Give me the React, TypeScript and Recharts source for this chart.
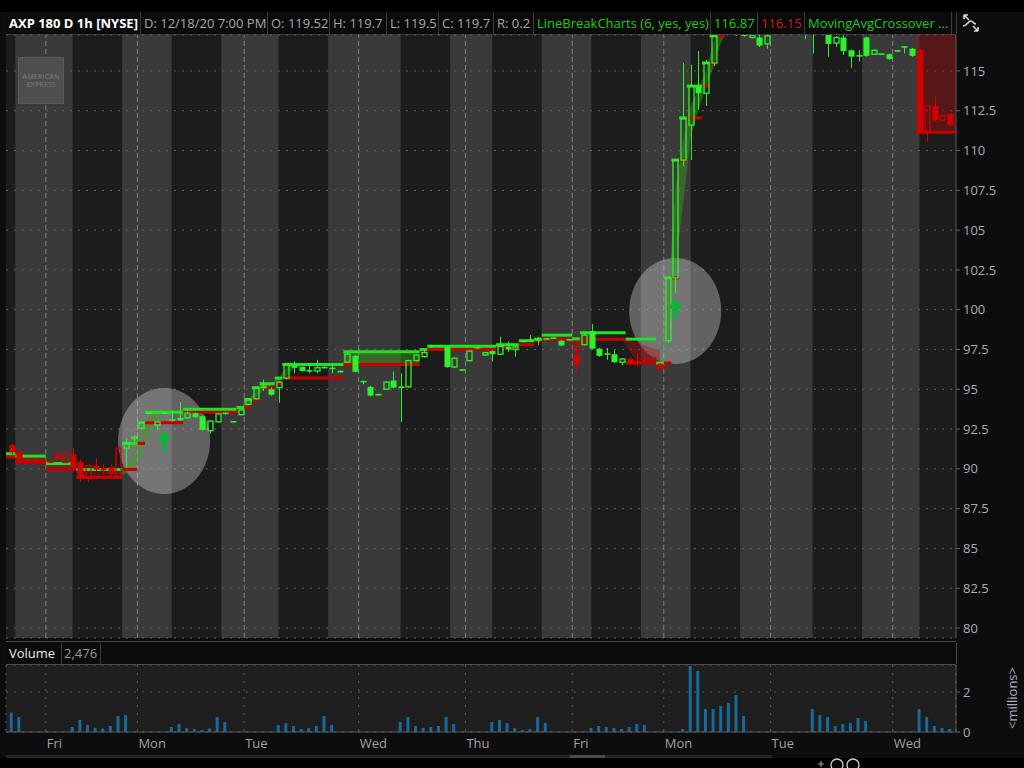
import React from 'react';
import {
  ComposedChart, BarChart, Bar, Area, XAxis, YAxis, CartesianGrid,
  ReferenceArea, ReferenceLine, ReferenceDot,
} from 'recharts';

type Trend = 'g' | 'r';

// [slot, open, high, low, close, trend] — one hourly bar per slot
const candles: [number, number, number, number, number, Trend][] = [
  [0, 91.5, 91.6, 90.9, 91.05, 'r'], [1, 91.1, 91.15, 90.35, 90.4, 'r'], [2, 90.62, 90.7, 90.5, 90.58, 'r'],
  [3, 90.6, 90.68, 90.5, 90.55, 'r'], [4, 90.55, 90.6, 90.45, 90.5, 'r'], [5, 90.45, 90.5, 90.35, 90.4, 'r'],
  [6, 90.9, 91.2, 90.55, 90.6, 'r'], [7, 90.4, 91.1, 90.35, 91.05, 'r'], [8, 90.9, 91.3, 90.05, 90.1, 'r'],
  [9, 90.45, 90.6, 89.2, 89.45, 'r'], [10, 89.45, 90.25, 89.15, 90.2, 'r'], [11, 90.2, 90.7, 89.85, 89.95, 'r'],
  [12, 90.05, 90.3, 89.7, 89.9, 'r'], [13, 90.1, 90.3, 89.5, 89.7, 'r'], [14, 89.45, 91.35, 89.4, 91.3, 'r'],
  [15, 91.3, 91.9, 90.1, 91.6, 'g'], [16, 91.9, 92.1, 91.7, 92.0, 'g'], [17, 92.55, 93.0, 92.5, 92.9, 'g'],
  [18, 93.52, 93.6, 93.45, 93.5, 'g'], [19, 92.75, 93.0, 92.45, 92.95, 'g'], [20, 93.52, 93.6, 93.45, 93.5, 'g'],
  [21, 93.05, 93.7, 92.95, 93.1, 'g'], [22, 93.2, 94.2, 93.0, 93.05, 'g'], [23, 93.2, 93.6, 93.15, 93.5, 'g'],
  [24, 93.5, 93.55, 93.2, 93.25, 'g'], [25, 93.3, 93.35, 92.4, 92.45, 'g'], [26, 92.4, 93.05, 92.2, 93.0, 'g'],
  [27, 92.95, 93.5, 92.9, 93.45, 'g'], [28, 93.47, 93.55, 93.4, 93.5, 'g'], [29, 92.97, 93.0, 92.9, 92.95, 'g'],
  [30, 93.4, 93.75, 93.35, 93.7, 'g'], [31, 94.05, 94.45, 94.0, 94.4, 'g'], [32, 94.4, 95.15, 94.35, 95.1, 'g'],
  [33, 95.1, 95.6, 94.9, 95.2, 'g'], [34, 95.0, 95.1, 94.6, 94.65, 'g'], [35, 95.1, 95.5, 94.15, 95.45, 'g'],
  [36, 95.7, 96.6, 95.6, 96.5, 'g'], [37, 96.55, 96.75, 96.0, 96.35, 'g'], [38, 96.4, 96.45, 96.1, 96.15, 'g'],
  [39, 96.17, 96.65, 96.0, 96.15, 'g'], [40, 96.15, 96.85, 96.0, 96.35, 'g'], [41, 96.37, 96.45, 96.3, 96.35, 'g'],
  [42, 96.32, 96.65, 96.0, 96.3, 'g'], [43, 96.12, 96.2, 96.05, 96.1, 'g'], [44, 96.7, 97.3, 96.65, 97.2, 'g'],
  [45, 97.1, 97.15, 96.05, 96.1, 'g'], [46, 95.5, 95.55, 95.3, 95.45, 'g'], [47, 95.15, 95.2, 94.55, 94.6, 'g'],
  [48, 94.67, 94.7, 94.6, 94.65, 'g'], [49, 95.0, 95.5, 94.98, 95.45, 'g'], [50, 95.55, 96.1, 95.05, 95.1, 'g'],
  [51, 95.1, 96.0, 92.95, 95.15, 'g'], [52, 95.15, 96.85, 95.1, 96.8, 'g'], [53, 96.8, 97.2, 96.75, 97.15, 'g'],
  [54, 97.05, 97.5, 97.0, 97.3, 'g'], [55, 97.72, 97.8, 97.6, 97.7, 'g'], [56, 97.72, 97.75, 97.65, 97.7, 'g'],
  [57, 97.65, 97.7, 96.35, 96.4, 'g'], [58, 96.4, 97.0, 96.35, 96.95, 'g'], [59, 96.22, 96.25, 96.15, 96.2, 'g'],
  [60, 96.8, 97.45, 96.75, 97.4, 'g'], [61, 97.62, 97.7, 97.55, 97.6, 'g'], [62, 97.15, 97.35, 97.1, 97.3, 'g'],
  [63, 97.4, 97.45, 96.75, 97.2, 'g'], [64, 97.2, 98.3, 97.15, 97.7, 'g'], [65, 97.65, 98.0, 97.35, 97.5, 'g'],
  [66, 97.5, 97.7, 97.05, 97.65, 'g'], [67, 98.02, 98.1, 97.95, 98.0, 'g'], [68, 98.07, 98.4, 98.0, 98.05, 'g'],
  [69, 98.12, 98.3, 97.8, 98.1, 'g'], [70, 98.17, 98.2, 98.1, 98.15, 'g'], [71, 98.22, 98.25, 98.15, 98.2, 'g'],
  [72, 98.05, 98.1, 97.7, 97.75, 'g'], [73, 98.12, 98.15, 98.05, 98.1, 'g'], [74, 97.1, 98.0, 96.0, 96.5, 'r'],
  [75, 97.8, 98.45, 97.75, 98.4, 'g'], [76, 98.65, 99.1, 97.5, 97.55, 'g'], [77, 97.55, 97.6, 97.05, 97.1, 'g'],
  [78, 97.22, 97.6, 96.85, 97.2, 'g'], [79, 97.2, 97.45, 96.65, 96.7, 'g'], [80, 96.7, 96.95, 96.5, 96.9, 'g'],
  [81, 96.9, 97.05, 96.5, 96.65, 'r'], [82, 96.72, 97.3, 96.4, 96.7, 'r'], [83, 96.7, 97.05, 96.65, 97.0, 'r'],
  [84, 96.97, 97.0, 96.9, 96.95, 'r'], [85, 96.6, 96.65, 96.25, 96.3, 'r'], [86, 98.05, 102.05, 97.9, 102.0, 'g'],
  [87, 102.0, 109.45, 101.05, 109.4, 'g'], [88, 109.4, 115.5, 109.0, 112.0, 'g'], [89, 111.6, 115.4, 109.4, 114.05, 'g'],
  [90, 114.0, 116.25, 112.55, 113.6, 'g'], [91, 113.6, 115.7, 112.8, 115.5, 'g'], [92, 115.5, 118.0, 115.3, 117.2, 'g'],
  [93, 117.6, 118.2, 117.4, 117.9, 'g'], [94, 117.9, 118.3, 117.5, 118.1, 'g'], [95, 117.4, 117.6, 117.2, 117.5, 'g'],
  [96, 117.3, 117.5, 117.15, 117.2, 'g'], [97, 117.1, 117.35, 117.05, 117.25, 'g'], [98, 117.1, 117.4, 116.5, 116.6, 'g'],
  [99, 116.7, 117.3, 116.4, 117.2, 'g'], [100, 117.6, 117.9, 117.4, 117.7, 'g'], [101, 117.8, 118.1, 117.5, 117.9, 'g'],
  [102, 117.9, 118.2, 117.6, 117.7, 'g'], [103, 117.7, 118.0, 117.4, 117.8, 'g'], [104, 117.8, 118.0, 117.0, 117.6, 'g'],
  [105, 117.7, 118.0, 116.1, 117.5, 'g'], [106, 117.6, 117.9, 117.35, 117.5, 'g'], [107, 117.4, 117.5, 115.9, 116.7, 'g'],
  [108, 116.75, 117.2, 116.5, 117.1, 'g'], [109, 117.1, 117.4, 116.0, 116.25, 'g'], [110, 116.3, 116.35, 115.2, 115.9, 'g'],
  [111, 115.98, 116.3, 115.6, 115.92, 'g'], [112, 117.1, 117.15, 115.9, 115.95, 'g'], [113, 116.05, 116.35, 116.0, 116.3, 'g'],
  [114, 116.07, 116.1, 116.0, 116.05, 'g'], [115, 116.05, 116.1, 115.7, 115.75, 'g'], [116, 116.27, 116.3, 116.2, 116.25, 'g'],
  [117, 116.52, 116.55, 116.1, 116.5, 'g'], [118, 116.4, 116.45, 115.9, 115.95, 'g'], [119, 116.3, 116.4, 111.1, 111.15, 'r'],
  [120, 111.15, 112.85, 110.55, 112.8, 'r'], [121, 112.8, 113.4, 111.85, 111.9, 'r'], [122, 111.9, 112.25, 111.85, 112.2, 'r'],
  [123, 112.3, 112.35, 111.55, 111.6, 'r'],
];

// [slot, volume in millions]
const volumes: [number, number][] = [
  [0, 0.97], [1, 0.75],
  [8, 0.25], [9, 0.6], [10, 0.35], [11, 0.2], [12, 0.17], [13, 0.3], [14, 0.8], [15, 0.85],
  [21, 0.25], [22, 0.4], [23, 0.2], [24, 0.15], [25, 0.1], [26, 0.17], [27, 0.75], [28, 0.5],
  [35, 0.35], [36, 0.45], [37, 0.3], [38, 0.15], [39, 0.2], [40, 0.3], [41, 0.8], [42, 0.35],
  [51, 0.5], [52, 0.75], [53, 0.3], [54, 0.2], [55, 0.25], [56, 0.3], [57, 0.75], [58, 0.4],
  [63, 0.5], [64, 0.6], [65, 0.45], [66, 0.2], [67, 0.1], [68, 0.15], [69, 0.75], [70, 0.45],
  [76, 0.2], [77, 0.3], [78, 0.25], [79, 0.2], [80, 0.15], [81, 0.25], [82, 0.4], [83, 0.35],
  [88, 0.15], [89, 3.3], [90, 3.05], [91, 1.15], [92, 1.15], [93, 1.3], [94, 1.45], [95, 1.85], [96, 0.8],
  [105, 1.15], [106, 0.85], [107, 0.75], [108, 0.3], [109, 0.4], [110, 0.45], [111, 0.7], [112, 0.55],
  [119, 1.15], [120, 0.75], [121, 0.3], [122, 0.2], [123, 0.15],
];

// Line break bricks: [fromSlot, toSlot, top, bottom, shaded]
const bricks: [number, number, number, number, '' | 'g' | 'r'][] = [
  [-0.72, 0.5, 90.95, 90.75, 'r'], [0.5, 4.5, 90.8, 90.4, 'r'], [4.5, 8.5, 90.33, 89.96, 'r'],
  [8.5, 14.5, 89.96, 89.45, 'r'], [14.5, 16.5, 91.6, 89.96, ''], [16.5, 17.5, 92.9, 91.6, ''],
  [17.5, 22.5, 93.55, 92.9, ''], [22.5, 29.5, 93.75, 93.55, ''], [29.5, 30.5, 93.85, 93.75, ''],
  [30.5, 31.5, 94.35, 93.85, ''], [31.5, 32.5, 95.1, 94.35, ''], [32.5, 34.5, 95.35, 95.1, ''],
  [34.5, 35.5, 95.7, 95.35, ''], [35.5, 43.5, 96.55, 95.7, ''], [43.5, 53.5, 97.35, 96.55, 'g'],
  [53.5, 54.5, 97.5, 97.35, ''], [54.5, 63.5, 97.7, 97.5, ''], [63.5, 66.5, 97.8, 97.7, ''],
  [66.5, 68.5, 98.05, 97.8, ''], [68.5, 69.5, 98.15, 98.05, ''], [69.5, 73.5, 98.4, 98.15, ''],
  [73.5, 74.5, 98.17, 98.13, ''], [74.5, 80.5, 98.55, 98.15, ''], [80.5, 84.5, 98.15, 96.65, ''],
  [84.5, 85.5, 96.65, 96.35, ''], [85.5, 86.5, 102.0, 96.65, ''], [86.5, 87.5, 109.4, 102.0, ''],
  [87.5, 88.5, 112.05, 109.4, ''], [88.5, 90.5, 114.05, 112.05, ''], [90.5, 91.5, 115.5, 114.05, ''],
  [91.5, 92.5, 117.2, 115.5, ''], [92.5, 93.5, 118.0, 117.2, ''], [93.5, 118.5, 118.5, 118.0, ''],
  [118.5, 123.8, 118.0, 111.15, 'r'],
];

// Moving-average crossover cloud: [slot, slowMA, fastMA]
const cloudUp: [number, number, number][] = [
  [14, 89.6, 89.6], [15, 89.7, 90.1], [16, 89.9, 91.0], [17, 90.8, 92.3], [18, 92.0, 93.3],
  [19, 93.0, 93.6], [20, 93.5, 93.6], [21, 93.6, 93.6],
  [29, 93.7, 93.7], [30, 93.75, 93.85], [31, 93.95, 94.3], [32, 94.45, 94.9], [33, 94.95, 95.2],
  [34, 95.2, 95.4], [35, 95.45, 95.7], [36, 95.8, 96.4], [37, 96.3, 96.55], [38, 96.5, 96.55], [39, 96.55, 96.55],
  [85, 96.6, 96.6], [86, 98.3, 100.5], [87, 102.5, 107.5], [88, 106.5, 110.5], [89, 110.8, 112.8],
  [90, 112.5, 113.8], [91, 113.9, 115.0], [92, 115.2, 116.8], [93, 116.8, 118.0], [94, 117.6, 118.2],
];
// [slot, fastMA, slowMA]
const cloudDown: [number, number, number][] = [
  [73, 98.15, 98.15], [74, 96.6, 98.15], [75, 97.7, 98.15], [76, 98.15, 98.15],
  [80, 98.15, 98.15], [81, 97.4, 98.05], [82, 96.7, 97.9], [83, 96.6, 97.75], [84, 96.6, 97.6], [85, 96.5, 97.45],
];

// Regular-session (dark) bands: [startSlot, endSlot]
const sessionBands: [number, number][] = [
  [-7, 0.5], [8, 14.5], [21, 27.5], [35, 41.5], [51, 57.5], [63, 69.5], [76, 82.5], [89, 95.5], [105, 111.5], [119, 125.5],
];

const dayDividers = [4.5, 16.5, 30.5, 45.5, 59.5, 73.5, 85.5, 99.5, 115.5];
const dayLabels = ['Fri', 'Mon', 'Tue', 'Wed', 'Thu', 'Fri', 'Mon', 'Tue', 'Wed'];

const priceTicks = [80, 82.5, 85, 87.5, 90, 92.5, 95, 97.5, 100, 102.5, 105, 107.5, 110, 112.5, 115];
const volumeTicks = [0, 2];

// Buy signals: [slot, bubble center price, arrow tip price]
const signals: [number, number, number][] = [
  [20, 91.75, 92.44],
  [87, 99.92, 100.74],
];

const X_DOMAIN: [number, number] = [-0.72, 123.8];
const Y_DOMAIN: [number, number] = [79.37, 117.26];

const C_GREEN = '#2cf22c';
const C_RED = '#d60000';
const L_GREEN = '#1fe41f';
const L_RED = '#c80000';
const FONT = '"Open Sans", "DejaVu Sans", sans-serif';

const upMap = new Map(cloudUp.map(([s, lo, hi]) => [s, [lo, hi]]));
const downMap = new Map(cloudDown.map(([s, lo, hi]) => [s, [lo, hi]]));

const rows = candles.map(([slot, o, h, l, c, t]) => ({
  slot, o, h, l, c, t,
  up: upMap.get(slot) ?? null,
  down: downMap.get(slot) ?? null,
}));

const volRows = volumes.map(([slot, v]) => ({ slot, v }));

const CandleShape = (props: any) => {
  const { x, y, width, height, payload } = props;
  if (!payload || payload.o == null) return <g />;
  const { o, h, l, c, t } = payload;
  const top = Math.min(y, y + height);
  const span = Math.abs(height);
  const per = span / (h - l);
  const py = (v: number) => top + (h - v) * per;
  const cx = Math.round(x + width / 2) + 0.5;
  const color = t === 'g' ? C_GREEN : C_RED;
  const bw = 6;
  const yo = py(o);
  const yc = py(c);
  const bTop = Math.min(yo, yc);
  const bBot = Math.max(yo, yc);
  const bH = bBot - bTop;
  const hollow = c > o;
  if (bH < 1.5) {
    const ym = (yo + yc) / 2;
    return (
      <g>
        <line x1={cx} x2={cx} y1={top} y2={top + span} stroke={color} strokeWidth={1} />
        <line x1={cx - bw / 2} x2={cx + bw / 2} y1={ym} y2={ym} stroke={color} strokeWidth={1.6} />
      </g>
    );
  }
  if (hollow) {
    return (
      <g>
        <line x1={cx} x2={cx} y1={top} y2={bTop} stroke={color} strokeWidth={1} />
        <line x1={cx} x2={cx} y1={bBot} y2={top + span} stroke={color} strokeWidth={1} />
        <rect x={cx - bw / 2 + 0.5} y={bTop} width={bw - 1} height={bH} fill="none" stroke={color} strokeWidth={1.3} />
      </g>
    );
  }
  return (
    <g>
      <line x1={cx} x2={cx} y1={top} y2={top + span} stroke={color} strokeWidth={1} />
      <rect x={cx - bw / 2} y={bTop} width={bw} height={bH} fill={color} />
    </g>
  );
};

const Bubble = (p: any) => (
  <ellipse cx={p.cx} cy={p.cy} rx={46} ry={53} fill="#d4d4d4" fillOpacity={0.38} />
);

const Arrow = (p: any) => {
  const { cx, cy } = p;
  const d = `M${cx},${cy} L${cx + 7.5},${cy + 11} L${cx + 2},${cy + 11} L${cx + 2},${cy + 21} L${cx - 2},${cy + 21} L${cx - 2},${cy + 11} L${cx - 7.5},${cy + 11} Z`;
  return <path d={d} fill="#10b23e" />;
};

const DayTick = (props: any) => {
  const { x, y, payload } = props;
  const i = dayDividers.indexOf(payload.value);
  return (
    <text x={x + 1} y={y + 8} fill="#a2a2a2" fontSize={13} fontFamily={FONT} textAnchor="start">
      {i >= 0 ? dayLabels[i] : ''}
    </text>
  );
};

const headerItems: [number, string, string, number][] = [
  [9, 'AXP 180 D 1h [NYSE]', '#ffffff', 700],
  [144, 'D: 12/18/20 7:00 PM', '#a8a8a8', 400],
  [271, 'O: 119.52', '#a8a8a8', 400],
  [333, 'H: 119.7', '#a8a8a8', 400],
  [390, 'L: 119.5', '#a8a8a8', 400],
  [442, 'C: 119.7', '#a8a8a8', 400],
  [497, 'R: 0.2', '#a8a8a8', 400],
  [537, 'LineBreakCharts (6, yes, yes)', '#22c822', 400],
  [714, '116.87', '#22c822', 400],
  [761, '116.15', '#d01818', 400],
  [808, 'MovingAvgCrossover ...', '#22c822', 400],
];
const headerSeps = [140, 267, 329, 386, 438, 493, 533, 710, 757, 804, 951, 956];

export default function App() {
  return (
    <div style={{ position: 'absolute', left: 0, top: 0, width: 1024, height: 768, background: '#0d0d0d', overflow: 'hidden', fontFamily: FONT }}>
      {/* top black strip */}
      <div style={{ position: 'absolute', left: 0, top: 0, width: 1024, height: 12, background: '#000' }} />
      {/* header */}
      <div style={{ position: 'absolute', left: 6, top: 12, width: 950, height: 22, background: '#0b0b0b', borderBottom: '1px solid #3a3a3a' }} />
      {headerItems.map(([x, t, col, w], i) => (
        <div key={i} style={{ position: 'absolute', left: x, top: 12, height: 22, lineHeight: '22px', fontSize: 13, color: col, fontWeight: w, whiteSpace: 'nowrap', zIndex: 5 }}>{t}</div>
      ))}
      {headerSeps.map((x, i) => (
        <div key={i} style={{ position: 'absolute', left: x, top: 12, width: 1, height: 22, background: '#3c3c3c', zIndex: 5 }} />
      ))}
      <svg style={{ position: 'absolute', left: 961, top: 12, zIndex: 5 }} width={20} height={22}>
        <path d="M3,3 L8,8 M3,3 L3,7 M3,3 L7,3" stroke="#d8d8d8" strokeWidth={1.6} fill="none" />
        <path d="M2,14 C6,14 7,9 10,9 C12,9 12,12 15,12" stroke="#d8d8d8" strokeWidth={1.6} fill="none" />
        <path d="M12,14 L17,19 M17,19 L17,15 M17,19 L13,19" stroke="#d8d8d8" strokeWidth={1.6} fill="none" />
      </svg>

      {/* price panel */}
      <div style={{ position: 'absolute', left: 0, top: 0 }}>
        <ComposedChart width={1024} height={640} data={rows} margin={{ top: 35, right: 8, bottom: 2, left: 6 }}>
          <CartesianGrid horizontal={false} vertical={false} fill="#3a3a3a" zIndex={-300} />
          {sessionBands.map(([a, b], i) => (
            <ReferenceArea key={`sb${i}`} x1={a} x2={b} fill="#1c1c1c" fillOpacity={1} stroke="none" ifOverflow="hidden" zIndex={-200} />
          ))}
          <CartesianGrid vertical={false} stroke="#606060" strokeDasharray="2 6" zIndex={-100} />
          {dayDividers.map((d, i) => (
            <ReferenceLine key={`dd${i}`} x={d} stroke="#808080" strokeDasharray="5 3" zIndex={-50} />
          ))}
          <XAxis type="number" dataKey="slot" domain={X_DOMAIN} allowDataOverflow hide />
          <YAxis
            orientation="right"
            width={60}
            domain={Y_DOMAIN}
            allowDataOverflow
            ticks={priceTicks}
            interval={0}
            tickSize={4}
            tickMargin={3}
            tick={{ fill: '#a6aebb', fontSize: 13, fontFamily: FONT }}
            tickLine={{ stroke: '#666' }}
            axisLine={{ stroke: '#5a5a5a' }}
            tickFormatter={(v: number) => String(v)}
          />
          {signals.map(([s, p], i) => (
            <ReferenceDot key={`bb${i}`} x={s} y={p} r={1} shape={Bubble} zIndex={50} />
          ))}
          <Area
            dataKey={(d: any) => d.up}
            type="linear"
            stroke="none"
            fill="#3ea020"
            fillOpacity={0.45}
            connectNulls={false}
            isAnimationActive={false}
            dot={false}
            activeDot={false}
            zIndex={100}
          />
          <Area
            dataKey={(d: any) => d.down}
            type="linear"
            stroke="none"
            fill="#b01010"
            fillOpacity={0.42}
            connectNulls={false}
            isAnimationActive={false}
            dot={false}
            activeDot={false}
            zIndex={100}
          />
          {bricks.filter((b) => b[4] !== '').map(([a, b, top, bot, f], i) => (
            <ReferenceArea key={`bf${i}`} x1={a} x2={b} y1={bot} y2={top} fill={f === 'g' ? '#3ea020' : '#a81010'} fillOpacity={f === 'g' ? 0.45 : 0.42} stroke="none" ifOverflow="hidden" zIndex={150} />
          ))}
          {bricks.map(([a, b, , bot], i) => (
            <ReferenceLine key={`br${i}`} segment={[{ x: a, y: bot }, { x: b, y: bot }]} stroke={L_RED} strokeWidth={3} ifOverflow="hidden" zIndex={250} />
          ))}
          {bricks.map(([a, b, top], i) => (
            <ReferenceLine key={`bg${i}`} segment={[{ x: a, y: top }, { x: b, y: top }]} stroke={L_GREEN} strokeWidth={3} ifOverflow="hidden" zIndex={260} />
          ))}
          <Bar dataKey={(d: any) => [d.l, d.h]} barSize={6} shape={CandleShape} isAnimationActive={false} zIndex={300} />
          {signals.map(([s, , tip], i) => (
            <ReferenceDot key={`ar${i}`} x={s} y={tip} r={1} shape={Arrow} zIndex={600} />
          ))}
        </ComposedChart>
      </div>

      {/* logo */}
      <div style={{ position: 'absolute', left: 18, top: 57, width: 46, height: 47, background: '#4e4e4e', border: '1px solid #5a5a5a', boxSizing: 'border-box', color: '#6c6c6c', fontSize: 7, fontWeight: 700, lineHeight: '8px', textAlign: 'center', paddingTop: 15, letterSpacing: 0 }}>
        AMERICAN<br />EXPRESS
      </div>

      {/* volume panel */}
      <div style={{ position: 'absolute', left: 6, top: 641, width: 950, height: 1, background: '#4a4a4a' }} />
      <div style={{ position: 'absolute', left: 0, top: 640 }}>
        <BarChart width={1024} height={118} data={volRows} margin={{ top: 25, right: 8, bottom: 3, left: 6 }}>
          <CartesianGrid fill="#1e1e1e" stroke="#5c5c5c" strokeDasharray="2 6" />
          <XAxis
            type="number"
            dataKey="slot"
            domain={X_DOMAIN}
            allowDataOverflow
            ticks={dayDividers}
            interval={0}
            height={23}
            tickLine={false}
            tickSize={6}
            tickMargin={2}
            axisLine={{ stroke: '#5a5a5a' }}
            tick={<DayTick />}
          />
          <YAxis
            orientation="right"
            width={60}
            domain={[0, 3.35]}
            allowDataOverflow
            ticks={volumeTicks}
            interval={0}
            tickSize={4}
            tickMargin={3}
            tick={{ fill: '#a6aebb', fontSize: 13, fontFamily: FONT }}
            tickLine={{ stroke: '#666' }}
            axisLine={{ stroke: '#5a5a5a' }}
          />
          <Bar dataKey="v" fill="#19699a" barSize={3} isAnimationActive={false} />
        </BarChart>
      </div>
      <div style={{ position: 'absolute', left: 6, top: 643, width: 950, height: 21, background: '#0b0b0b', borderBottom: '1px solid #4a4a4a', zIndex: 4 }} />
      <div style={{ position: 'absolute', left: 9, top: 643, height: 21, lineHeight: '21px', fontSize: 13, color: '#ececec', zIndex: 5 }}>Volume</div>
      <div style={{ position: 'absolute', left: 61, top: 643, width: 1, height: 21, background: '#3c3c3c', zIndex: 5 }} />
      <div style={{ position: 'absolute', left: 64, top: 643, height: 21, lineHeight: '21px', fontSize: 13, color: '#9a9a9a', zIndex: 5 }}>2,476</div>
      <div style={{ position: 'absolute', left: 100, top: 643, width: 1, height: 21, background: '#3c3c3c', zIndex: 5 }} />
      <div style={{ position: 'absolute', left: 956, top: 643, width: 1, height: 21, background: '#4a4a4a', zIndex: 5 }} />
      <div style={{ position: 'absolute', left: 980, top: 690, width: 64, height: 16, lineHeight: '16px', fontSize: 13, color: '#a6aebb', transform: 'rotate(-90deg)', transformOrigin: '32px 8px', textAlign: 'center', zIndex: 5 }}>&lt;millions&gt;</div>

      {/* bottom scroll bar */}
      <div style={{ position: 'absolute', left: 6, top: 755, width: 766, height: 3, background: '#262626' }} />
      <div style={{ position: 'absolute', left: 570, top: 755, width: 35, height: 3, background: '#4c4c4c' }} />
      <div style={{ position: 'absolute', left: 0, top: 758, width: 1024, height: 10, background: '#000' }} />
      <svg style={{ position: 'absolute', left: 815, top: 752 }} width={50} height={16}>
        <path d="M3,12 L9,12 M6,9 L6,15" stroke="#9a9a9a" strokeWidth={1.2} fill="none" />
        <circle cx={22} cy={13} r={6} stroke="#cfcfcf" strokeWidth={1.3} fill="none" />
        <circle cx={38} cy={13} r={6} stroke="#cfcfcf" strokeWidth={1.3} fill="none" />
      </svg>
    </div>
  );
}
